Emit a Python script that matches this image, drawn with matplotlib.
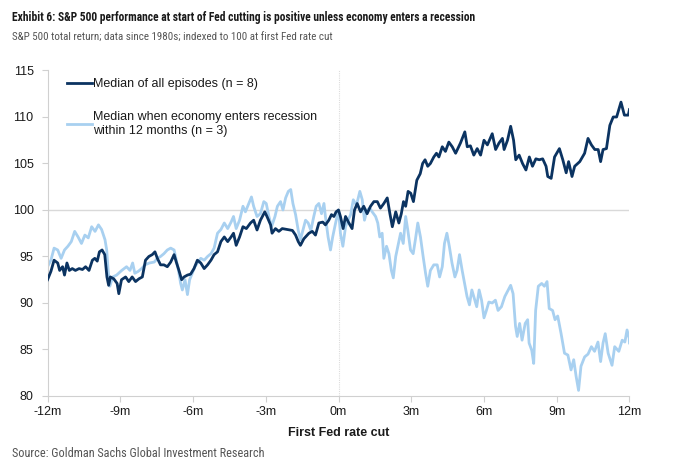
import numpy as np
import matplotlib
matplotlib.use("Agg")
import matplotlib.pyplot as plt
from matplotlib import font_manager

# S&P 500 total return around first Fed cut, indexed to 100 (months from cut)
all_months = [
    -12.0, -11.86, -11.73, -11.58, -11.5, -11.38, -11.3, -11.2, -11.1, -10.98,
    -10.85, -10.7, -10.56, -10.43, -10.29, -10.15, -10.05, -9.95, -9.86, -9.75,
    -9.64, -9.55, -9.48, -9.41, -9.27, -9.13, -9.06, -8.95, -8.78, -8.65,
    -8.51, -8.37, -8.23, -8.09, -7.96, -7.82, -7.68, -7.57, -7.47, -7.34,
    -7.2, -7.06, -6.92, -6.78, -6.69, -6.58, -6.47, -6.37, -6.23, -6.1,
    -5.96, -5.82, -5.68, -5.54, -5.4, -5.26, -5.13, -4.99, -4.85, -4.71,
    -4.57, -4.43, -4.33, -4.22, -4.08, -3.94, -3.8, -3.63, -3.5, -3.36,
    -3.22, -3.04, -2.95, -2.8, -2.74, -2.6, -2.46, -2.32, -2.1, -1.9,
    -1.77, -1.66, -1.57, -1.43, -1.22, -1.08, -0.95, -0.81, -0.65, -0.54,
    -0.4, -0.29, -0.19, -0.1, 0.0, 0.08, 0.19, 0.29, 0.43, 0.56,
    0.66, 0.77, 0.91, 1.04, 1.18, 1.32, 1.46, 1.6, 1.73, 1.87,
    2.01, 2.12, 2.22, 2.36, 2.49, 2.59, 2.68, 2.77, 2.87, 2.98,
    3.09, 3.23, 3.37, 3.47, 3.57, 3.68, 3.79, 3.93, 4.04, 4.14,
    4.28, 4.41, 4.55, 4.69, 4.83, 5.03, 5.21, 5.31, 5.44, 5.58,
    5.72, 5.86, 6.0, 6.14, 6.34, 6.48, 6.62, 6.76, 6.83, 6.97,
    7.1, 7.22, 7.31, 7.45, 7.59, 7.73, 7.87, 8.0, 8.14, 8.28,
    8.42, 8.56, 8.63, 8.77, 8.91, 9.11, 9.25, 9.39, 9.49, 9.63,
    9.74, 9.95, 10.15, 10.29, 10.43, 10.57, 10.71, 10.81, 10.91, 11.05,
    11.19, 11.33, 11.47, 11.65, 11.79, 11.95, 12.0,
]
all_median = [
    92.5, 93.4, 94.6, 94.3, 93.5, 93.9, 93.0, 94.3, 93.5, 93.7,
    93.5, 93.7, 93.6, 93.9, 93.5, 94.6, 94.8, 94.5, 95.5, 95.7,
    95.2, 92.8, 91.9, 92.8, 92.6, 92.1, 91.0, 92.5, 92.8, 92.3,
    92.8, 92.3, 92.6, 92.8, 94.6, 95.0, 95.2, 95.5, 94.8, 94.1,
    94.1, 93.9, 94.4, 95.2, 94.4, 93.5, 92.5, 92.8, 93.0, 93.1,
    93.7, 94.6, 94.3, 93.7, 94.1, 94.6, 95.2, 95.5, 96.6, 97.1,
    96.6, 97.1, 97.5, 96.2, 97.1, 98.2, 98.0, 98.6, 98.9, 97.85,
    98.9, 99.8, 99.3, 98.4, 97.5, 98.0, 97.7, 98.0, 97.9, 97.8,
    97.3, 96.6, 96.2, 96.9, 97.5, 97.7, 97.3, 98.6, 98.7, 98.4,
    98.9, 99.5, 99.3, 99.8, 100.0, 99.3, 98.0, 99.3, 98.6, 98.0,
    100.0, 100.7, 99.8, 100.4, 99.6, 100.4, 100.9, 100.9, 100.2, 100.7,
    101.3, 99.6, 98.2, 99.8, 98.6, 99.6, 100.9, 100.4, 102.0, 101.8,
    100.9, 103.2, 103.9, 105.0, 105.4, 104.7, 105.0, 105.7, 106.1, 105.7,
    106.8, 106.3, 107.3, 106.8, 106.1, 107.2, 108.4, 106.8, 106.9, 105.9,
    106.6, 105.9, 107.5, 107.0, 108.2, 106.5, 107.2, 107.7, 106.5, 107.5,
    109.0, 107.5, 105.4, 105.9, 105.0, 104.3, 105.7, 104.7, 105.5, 105.4,
    105.5, 104.7, 103.6, 103.4, 105.7, 106.6, 105.4, 104.0, 105.2, 103.6,
    104.7, 105.2, 106.1, 107.7, 107.0, 106.5, 106.5, 105.2, 106.5, 106.6,
    109.1, 110.0, 110.0, 111.6, 110.2, 110.2, 110.8,
]

rec_months = [
    -12.0, -11.86, -11.73, -11.58, -11.44, -11.3, -11.16, -11.02, -10.88, -10.74,
    -10.6, -10.46, -10.32, -10.18, -10.04, -9.9, -9.77, -9.63, -9.56, -9.5,
    -9.43, -9.31, -9.15, -8.94, -8.74, -8.6, -8.49, -8.4, -8.26, -8.12,
    -7.98, -7.8, -7.6, -7.47, -7.34, -7.2, -7.06, -6.92, -6.78, -6.69,
    -6.6, -6.51, -6.44, -6.33, -6.23, -6.14, -6.03, -5.92, -5.82, -5.68,
    -5.54, -5.4, -5.26, -5.13, -4.99, -4.85, -4.71, -4.57, -4.43, -4.33,
    -4.22, -4.08, -3.94, -3.84, -3.7, -3.59, -3.5, -3.36, -3.22, -3.08,
    -2.98, -2.87, -2.76, -2.62, -2.52, -2.39, -2.29, -2.18, -2.07, -1.97,
    -1.88, -1.77, -1.66, -1.57, -1.47, -1.36, -1.25, -1.14, -1.02, -0.92,
    -0.81, -0.7, -0.6, -0.54, -0.43, -0.33, -0.24, -0.12, 0.0, 0.08,
    0.18, 0.29, 0.43, 0.5, 0.61, 0.74, 0.88, 0.98, 1.07, 1.18,
    1.29, 1.39, 1.53, 1.62, 1.7, 1.8, 1.87, 1.98, 2.08, 2.18,
    2.26, 2.36, 2.45, 2.56, 2.67, 2.77, 2.86, 2.97, 3.08, 3.17,
    3.27, 3.38, 3.49, 3.59, 3.68, 3.79, 3.93, 4.07, 4.17, 4.28,
    4.37, 4.47, 4.57, 4.68, 4.8, 4.89, 4.99, 5.1, 5.2, 5.3,
    5.4, 5.5, 5.6, 5.7, 5.8, 5.9, 6.0, 6.1, 6.2, 6.34,
    6.47, 6.58, 6.72, 6.86, 7.0, 7.1, 7.2, 7.3, 7.37, 7.47,
    7.57, 7.7, 7.8, 7.86, 7.97, 8.05, 8.13, 8.24, 8.38, 8.49,
    8.6, 8.69, 8.83, 8.93, 9.04, 9.18, 9.32, 9.46, 9.59, 9.7,
    9.8, 9.9, 10.0, 10.15, 10.29, 10.43, 10.56, 10.7, 10.81, 10.91,
    11.0, 11.12, 11.28, 11.39, 11.56, 11.7, 11.81, 11.9, 11.99, 12.0,
]
rec_median = [
    93.9, 94.6, 95.9, 95.7, 94.8, 95.7, 96.1, 96.6, 97.7, 97.1,
    96.4, 97.3, 97.0, 98.2, 97.7, 98.4, 97.9, 96.8, 95.7, 93.5,
    91.8, 92.8, 93.0, 93.5, 93.9, 93.5, 94.3, 93.2, 93.4, 93.7,
    94.1, 94.3, 94.4, 94.8, 95.0, 95.3, 95.7, 95.9, 95.7, 94.6,
    93.5, 92.1, 91.4, 92.5, 90.9, 92.5, 93.2, 93.9, 94.3, 94.8,
    94.6, 95.0, 95.3, 95.9, 97.5, 97.9, 98.6, 98.0, 98.7, 99.3,
    98.0, 98.9, 100.4, 99.8, 100.7, 101.4, 100.4, 99.3, 99.6, 100.9,
    100.7, 99.3, 98.2, 99.3, 100.4, 100.9, 100.0, 101.3, 102.0, 102.2,
    100.7, 99.5, 97.8, 96.8, 97.8, 98.9, 98.6, 97.8, 99.3, 100.4,
    100.7, 99.6, 100.7, 99.3, 97.1, 95.7, 97.1, 98.6, 100.0, 97.5,
    96.1, 98.2, 99.1, 99.5, 101.1, 100.5, 102.0, 101.1, 98.9, 100.0,
    100.2, 99.8, 99.3, 98.6, 97.1, 97.5, 94.8, 96.1, 95.3, 93.5,
    92.7, 95.0, 96.1, 97.5, 96.4, 99.3, 97.8, 95.7, 95.3, 96.8,
    98.6, 97.1, 95.0, 93.2, 91.8, 93.5, 94.1, 94.1, 92.8, 93.9,
    96.4, 97.5, 96.1, 94.3, 92.8, 93.5, 95.2, 93.5, 92.1, 90.7,
    89.8, 91.4, 90.5, 89.6, 91.4, 90.3, 88.4, 89.2, 90.1, 90.0,
    90.3, 89.2, 89.6, 90.7, 91.4, 91.9, 91.0, 87.5, 86.4, 87.8,
    86.0, 87.8, 88.2, 85.7, 84.9, 83.5, 89.2, 91.8, 92.1, 91.8,
    92.3, 89.4, 89.2, 88.2, 88.6, 86.7, 84.6, 84.4, 82.8, 83.9,
    82.1, 80.6, 83.2, 84.2, 84.5, 85.3, 84.8, 85.8, 83.7, 85.7,
    86.7, 84.6, 83.3, 85.3, 84.8, 86.0, 85.8, 87.1, 86.2, 85.7,
]

xticks = [-12, -9, -6, -3, 0, 3, 6, 9, 12]
xticklabels = ["-12m", "-9m", "-6m", "-3m", "0m", "3m", "6m", "9m", "12m"]
yticks = [80, 85, 90, 95, 100, 105, 110, 115]

dark = "#0b3361"
light = "#a8d0f0"

plt.rcParams["font.family"] = ["Liberation Sans", "DejaVu Sans"]

# condensed face for the header/source texts, if one is installed
names = {f.name for f in font_manager.fontManager.ttflist}
head_family = "Roboto"
for cand in ["Roboto Condensed", "Fira Sans Condensed", "Barlow Semi Condensed",
             "Asap Condensed", "Archivo Narrow"]:
    if cand in names:
        head_family = cand
        break
cond = head_family != "Roboto"

fig = plt.figure(figsize=(6.8, 4.69), dpi=100)
ax = fig.add_axes([0.0699, 0.1557, 0.8558, 0.694])

ax.axhline(100, color="#d9d9d9", lw=1, zorder=1)
ax.axvline(0, color="#dcdcdc", lw=0.8, ls=(0, (1, 1)), zorder=1)

ax.plot(all_months, all_median, color=dark, lw=2.0, zorder=3,
        label="Median of all episodes (n = 8)")
ax.plot(rec_months, rec_median, color=light, lw=2.0, zorder=2,
        label="Median when economy enters recession\nwithin 12 months (n = 3)")

ax.set_xlim(-12, 12)
ax.set_ylim(80, 115)
ax.set_xticks(xticks)
ax.set_xticklabels(xticklabels)
ax.set_yticks(yticks)

for s in ["top", "right"]:
    ax.spines[s].set_visible(False)
for s in ["left", "bottom"]:
    ax.spines[s].set_color("#d0d0d0")
ax.tick_params(axis="both", colors="#d0d0d0", labelcolor="#1a1a1a",
               labelsize=9, length=4)
ax.tick_params(axis="y", pad=6)
ax.tick_params(axis="x", pad=3)
ax.set_xlabel("First Fed rate cut", fontsize=9, fontweight="bold",
              color="#1a1a1a", labelpad=7)

leg = ax.legend(loc="upper left", bbox_to_anchor=(0.02, 1.0), frameon=False,
                fontsize=9, handlelength=2.0, handletextpad=0.1,
                labelspacing=1.7, borderaxespad=0.2)
for t in leg.get_texts():
    t.set_color("#1a1a1a")

fig.text(12 / 680, 1 - 17 / 469,
         "Exhibit 6: S&P 500 performance at start of Fed cutting is positive unless economy enters a recession",
         fontsize=8.3 if cond else 7.4, fontweight="bold", va="center", ha="left",
         color="#1a1a1a", family=head_family)
fig.text(12 / 680, 1 - 38 / 469,
         "S&P 500 total return; data since 1980s; indexed to 100 at first Fed rate cut",
         fontsize=7.9 if cond else 7.1, va="center", ha="left", color="#555555",
         family=head_family)
fig.text(12 / 680, 1 - 453 / 469, "Source: Goldman Sachs Global Investment Research",
         fontsize=8.8 if cond else 7.9, va="center", ha="left", color="#555555",
         family=head_family)

fig.savefig("out.png", dpi=100)
